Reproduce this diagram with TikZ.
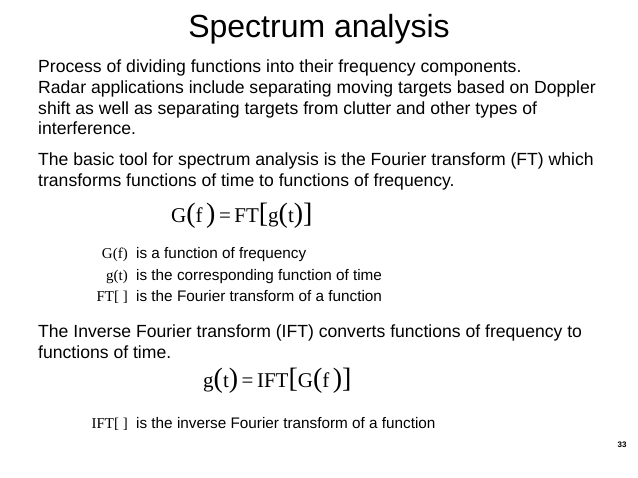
\documentclass[tikz,border=0pt]{standalone}
\usepackage{fontspec}
\setmainfont{Liberation Sans}
\newfontfamily\tms{Liberation Serif}
\newcommand{\bgp}[1]{{\fontsize{28}{28}\selectfont #1}}
\begin{document}
\begin{tikzpicture}[x=1pt,y=-1pt,
  body/.style={anchor=north west,inner sep=0pt,font=\fontsize{17.6}{20.6}\selectfont,align=left},
  eq/.style={anchor=base west,inner sep=0pt,font=\tms\fontsize{21}{24}\selectfont},
  lbl/.style={anchor=base east,inner sep=0pt,font=\tms\fontsize{15}{17}\selectfont},
  desc/.style={anchor=base west,inner sep=0pt,font=\fontsize{15.3}{18}\selectfont}]
\useasboundingbox (0,0) rectangle (638,478);
\fill[white] (0,0) rectangle (638,478);
\node[inner sep=0pt,font=\fontsize{32}{34}\selectfont] (title) at (319,29) {Spectrum analysis};
\node[body] (p1) at (38,60) {Process of dividing functions into their frequency components.\\Radar applications include separating moving targets based on Doppler\\shift as well as separating targets from clutter and other types of\\interference.};
\node[body] (p2) at (38,153) {The basic tool for spectrum analysis is the Fourier transform (FT) which\\transforms functions of time to functions of frequency.};
\node[eq] (e1) at (171,223) {G\bgp{(}f\,\bgp{)}\,=\,FT\bgp{[}g\bgp{(}t\bgp{)}\bgp{]}};
\node[lbl] (l1) at (128,259) {G(f)};
\node[desc] (d1) at (136,259) {is a function of frequency};
\node[lbl] (l2) at (128,281) {g(t)};
\node[desc] (d2) at (136,281) {is the corresponding function of time};
\node[lbl] (l3) at (128,302) {FT[ ]};
\node[desc] (d3) at (136,302) {is the Fourier transform of a function};
\node[body] (p3) at (38,325) {The Inverse Fourier transform (IFT) converts functions of frequency to\\functions of time.};
\node[eq] (e2) at (203,388) {g\bgp{(}t\bgp{)}\,=\,IFT\bgp{[}G\bgp{(}f\,\bgp{)}\bgp{]}};
\node[lbl] (l4) at (128,429) {IFT[ ]};
\node[desc] (d4) at (136,429) {is the inverse Fourier transform of a function};
\node[inner sep=0pt,font=\fontsize{8}{9}\selectfont\bfseries] (pg) at (622,445) {33};
\end{tikzpicture}
\end{document}
